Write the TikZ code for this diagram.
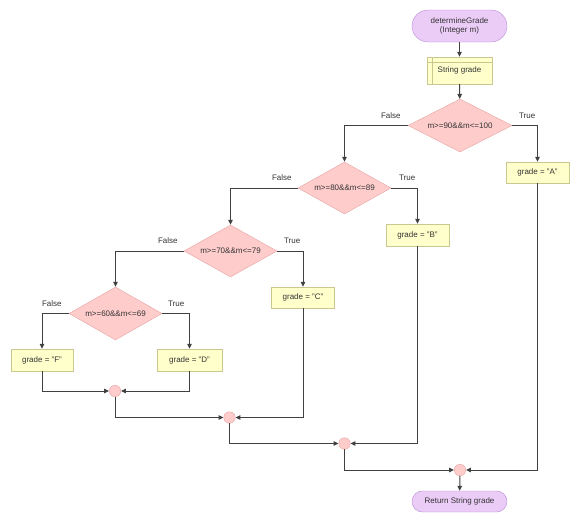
\documentclass[tikz,border=0pt]{standalone}
\usepackage{fontspec}
\setmainfont{Liberation Sans}
\usetikzlibrary{shapes.geometric,arrows.meta}
\definecolor{termfill}{HTML}{EBCCF7}
\definecolor{termdraw}{HTML}{B98AD6}
\definecolor{boxfill}{HTML}{FFFFCC}
\definecolor{boxdraw}{HTML}{C9C98F}
\definecolor{decfill}{HTML}{FFCCCC}
\definecolor{decdraw}{HTML}{E5A3A3}
\definecolor{linec}{HTML}{404040}
\definecolor{textc}{HTML}{333333}
\begin{document}
\begin{tikzpicture}[x=1pt,y=-1pt,
  every node/.style={font=\fontsize{8}{9.5}\selectfont, text=textc},
  term/.style={draw=termdraw, fill=termfill, minimum width=95pt, align=center, inner sep=0pt},
  procbox/.style={draw=boxdraw, fill=boxfill, minimum width=63pt, minimum height=22pt, inner sep=0pt},
  decision/.style={draw=decdraw, fill=decfill, diamond, aspect=2, minimum width=93pt, minimum height=52pt, inner sep=0pt},
  merge/.style={draw=decdraw, fill=decfill, circle, minimum size=11.5pt, inner sep=0pt},
  lbl/.style={inner sep=0pt},
  arr/.style={draw=linec, line width=1pt, -{Triangle[length=5pt,width=4.5pt]}}
]
\useasboundingbox (0,0) rectangle (580,523);

\node[term, minimum height=32pt, rounded corners=16pt] (start) at (459.5,26) {determineGrade\\(Integer m)};
\node[procbox, minimum width=65pt, minimum height=27pt] (decl) at (459.5,70.5) {String grade};
\draw[boxdraw] ([xshift=5pt]decl.north west) -- ([xshift=5pt]decl.south west);
\draw[boxdraw] ([yshift=-5pt]decl.north west) -- ([yshift=-5pt]decl.north east);

\node[decision, minimum width=104pt, minimum height=53pt] (d1) at (460,125.5) {m>=90\&\&m<=100};
\node[decision] (d2) at (344.5,188) {m>=80\&\&m<=89};
\node[decision] (d3) at (230.5,251) {m>=70\&\&m<=79};
\node[decision, minimum height=53pt] (d4) at (115.5,313.5) {m>=60\&\&m<=69};

\node[procbox, minimum height=21pt] (bA) at (537.5,172.5) {grade = "A"};
\node[procbox] (bB) at (417.5,235) {grade = "B"};
\node[procbox, minimum height=21pt] (bC) at (303,297.5) {grade = "C"};
\node[procbox, minimum width=65pt] (bD) at (189.5,360) {grade = "D"};
\node[procbox, minimum width=62pt] (bF) at (42,360) {grade = "F"};

\node[merge] (c1) at (115,391) {};
\node[merge] (c2) at (229.5,417.5) {};
\node[merge] (c3) at (344.5,443.5) {};
\node[merge] (c4) at (460,470) {};

\node[term, minimum height=21pt, rounded corners=10.5pt] (ret) at (459.5,501.5) {Return String grade};

\node[lbl] (f1) at ([xshift=-17pt,yshift=10pt]d1.west) {False};
\node[lbl] (t1) at ([xshift=15pt,yshift=10pt]d1.east) {True};
\node[lbl] (f2) at ([xshift=-16pt,yshift=10pt]d2.west) {False};
\node[lbl] (t2) at ([xshift=16pt,yshift=10pt]d2.east) {True};
\node[lbl] (f3) at ([xshift=-16pt,yshift=10pt]d3.west) {False};
\node[lbl] (t3) at ([xshift=15pt,yshift=10pt]d3.east) {True};
\node[lbl] (f4) at ([xshift=-17pt,yshift=10pt]d4.west) {False};
\node[lbl] (t4) at ([xshift=14pt,yshift=10pt]d4.east) {True};

\draw[arr] (start) -- (decl);
\draw[arr] (decl) -- (d1);
\draw[arr] (d1.east) -| (bA);
\draw[arr] (d1.west) -| (d2);
\draw[arr] (d2.east) -| (bB);
\draw[arr] (d2.west) -| (d3);
\draw[arr] (d3.east) -| (bC);
\draw[arr] (d3.west) -| (d4);
\draw[arr] (d4.east) -| (bD);
\draw[arr] (d4.west) -| (bF);
\draw[arr] (bF) |- (c1);
\draw[arr] (bD) |- (c1);
\draw[arr] (c1) |- (c2);
\draw[arr] (bC) |- (c2);
\draw[arr] (c2) |- (c3);
\draw[arr] (bB) |- (c3);
\draw[arr] (c3) |- (c4);
\draw[arr] (bA) |- (c4);
\draw[arr] (c4) -- (ret);
\end{tikzpicture}
\end{document}
